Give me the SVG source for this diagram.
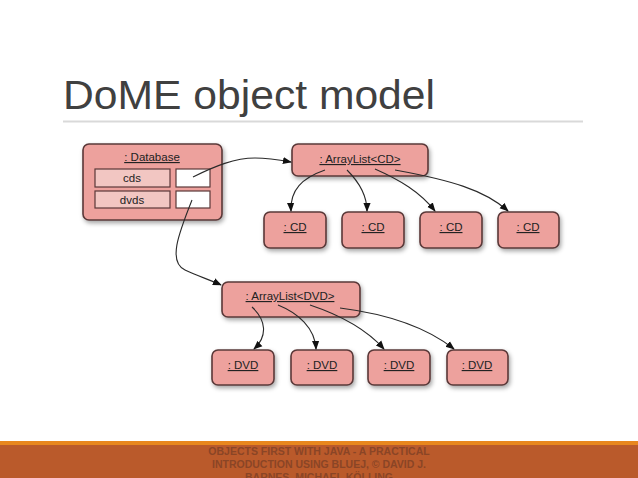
<svg xmlns="http://www.w3.org/2000/svg" width="638" height="478" viewBox="0 0 638 478">
<style>
.node{fill:#EDA19D;stroke:#5A3838;stroke-width:1.6;filter:url(#sh)}
.fld{fill:#F2C6C2;stroke:#5A3838;stroke-width:1.2}
.val{fill:#FFFFFF;stroke:#5A3838;stroke-width:1.2}
.lbl{font-family:"Liberation Sans",Arial,sans-serif;font-size:11.5px;fill:#222;text-anchor:middle;text-decoration:underline}
.ft{font-family:"Liberation Sans",Arial,sans-serif;font-size:11.5px;fill:#222;text-anchor:middle}
.con{fill:none;stroke:#2A2A2A;stroke-width:1.1;marker-end:url(#ah)}
.foot{font-family:"Liberation Sans",Arial,sans-serif;font-size:10.5px;font-weight:bold;fill:#8A4526;text-anchor:middle}
</style>
<defs>
<filter id="sh" x="-20%" y="-20%" width="150%" height="150%">
<feDropShadow dx="1.5" dy="2.5" stdDeviation="2" flood-color="#000" flood-opacity="0.35"/>
</filter>
<marker id="ah" viewBox="0 0 10 10" refX="9" refY="5" markerWidth="9" markerHeight="9" markerUnits="userSpaceOnUse" orient="auto">
<path d="M0,1 L10,5 L0,9 Z" fill="#111"/>
</marker>
</defs>
<rect width="638" height="478" fill="#FFFFFF"/>
<text x="63" y="109" font-family="'Liberation Sans',Arial,sans-serif" font-size="41" fill="#404040" textLength="372" lengthAdjust="spacingAndGlyphs">DoME object model</text>
<line x1="63" y1="121.5" x2="583" y2="121.5" stroke="#D9D9D9" stroke-width="2"/>

<g id="database">
<rect class="node" x="83" y="144" width="139" height="76" rx="6"/>
<text class="lbl" x="152" y="161">: Database</text>
<rect class="fld" x="95" y="169" width="75" height="18"/>
<text class="ft" x="132" y="182">cds</text>
<rect class="val" x="176" y="169" width="34" height="18"/>
<rect class="fld" x="95" y="191" width="75" height="17"/>
<text class="ft" x="132" y="204">dvds</text>
<rect class="val" x="176" y="191" width="34" height="17"/>
</g>
<g id="arraylist-cd">
<rect class="node" x="292" y="144" width="136" height="32" rx="6"/>
<text class="lbl" x="360" y="163">: ArrayList&lt;CD&gt;</text>
</g>
<g id="cd1"><rect class="node" x="264" y="212" width="62" height="36" rx="6"/><text class="lbl" x="295" y="231">: CD</text></g>
<g id="cd2"><rect class="node" x="342" y="212" width="62" height="36" rx="6"/><text class="lbl" x="373" y="231">: CD</text></g>
<g id="cd3"><rect class="node" x="420" y="212" width="62" height="36" rx="6"/><text class="lbl" x="451" y="231">: CD</text></g>
<g id="cd4"><rect class="node" x="498" y="212" width="61" height="36" rx="6"/><text class="lbl" x="528" y="231">: CD</text></g>
<g id="arraylist-dvd">
<rect class="node" x="222" y="282" width="138" height="35" rx="6"/>
<text class="lbl" x="290" y="300">: ArrayList&lt;DVD&gt;</text>
</g>
<g id="dvd1"><rect class="node" x="212" y="350" width="62" height="35" rx="6"/><text class="lbl" x="243" y="369">: DVD</text></g>
<g id="dvd2"><rect class="node" x="291" y="350" width="62" height="35" rx="6"/><text class="lbl" x="322" y="369">: DVD</text></g>
<g id="dvd3"><rect class="node" x="368" y="350" width="62" height="35" rx="6"/><text class="lbl" x="399" y="369">: DVD</text></g>
<g id="dvd4"><rect class="node" x="447" y="350" width="61" height="35" rx="6"/><text class="lbl" x="477" y="369">: DVD</text></g>

<g id="connectors">
<path class="con" d="M193,177 C215,166 235,158 255,158 C268,158 280,160 291,162"/>
<path class="con" d="M192,200 C178,235 168,262 185,270 C198,276 210,280 221,285"/>
<path class="con" d="M325,170 C302,178 290,190 291,211"/>
<path class="con" d="M347,170 C360,183 367,196 367,211"/>
<path class="con" d="M375,169 C400,180 420,192 435,211"/>
<path class="con" d="M395,170 C450,180 485,190 508,211"/>
<path class="con" d="M252,307 C266,320 268,336 254,349"/>
<path class="con" d="M278,305 C298,313 315,328 316,349"/>
<path class="con" d="M310,305 C340,315 367,330 384,349"/>
<path class="con" d="M340,308 C395,315 430,330 454,349"/>
</g>

<rect x="0" y="441" width="638" height="4" fill="#E8871E"/>
<rect x="0" y="445" width="638" height="33" fill="#BA5A2B"/>
<text class="foot" x="319" y="455">OBJECTS FIRST WITH JAVA - A PRACTICAL</text>
<text class="foot" x="319" y="468">INTRODUCTION USING BLUEJ, © DAVID J.</text>
<text class="foot" x="319" y="481">BARNES, MICHAEL KÖLLING</text>
</svg>
